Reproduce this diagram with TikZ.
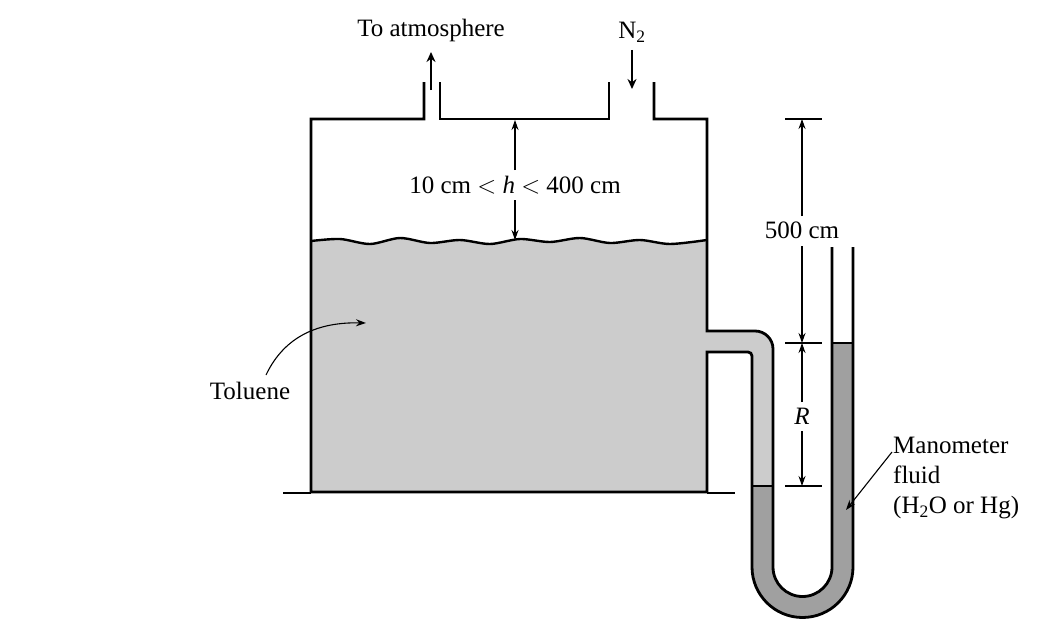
\documentclass[tikz,border=0pt]{standalone}
\usepackage{fontspec}
\setmainfont{Liberation Serif}
\usetikzlibrary{arrows.meta}
\begin{document}
\begin{tikzpicture}[x=1pt,y=-1pt,
  wall/.style={line width=2.8pt},
  dim/.style={line width=1.1pt,-{Stealth[length=10pt,width=7pt]}},
  lbl/.style={font=\fontsize{25}{30}\selectfont,inner sep=1pt},
  thin/.style={line width=1.1pt}]
\useasboundingbox (0,0) rectangle (1054,634);
\definecolor{tol}{HTML}{CCCCCC}
\definecolor{man}{HTML}{A0A0A0}
% toluene fill in tank and pipe
\fill[tol] (311,492) -- (311,241)
  -- plot[smooth] coordinates {(311,241)(340,239)(370,244)(400,238)(430,243)(460,240)(490,244)(520,239)(550,242)(580,238)(610,243)(640,240)(670,244)(707,240)}
  -- (707,331) -- (755,331) arc[start angle=-90,end angle=0,radius=18] -- (773,486) -- (752,486) -- (752,356) arc[start angle=0,end angle=-90,radius=4] -- (707,352) -- (707,492) -- cycle;
% manometer fluid
\fill[man] (752,486) -- (752,567) arc[start angle=180,end angle=0,radius=50.5] -- (853,343) -- (832,343) -- (832,567) arc[start angle=0,end angle=180,radius=29.5] -- (773,486) -- cycle;
% wavy surface
\draw[line width=2.4pt] plot[smooth] coordinates {(311,241)(340,239)(370,244)(400,238)(430,243)(460,240)(490,244)(520,239)(550,242)(580,238)(610,243)(640,240)(670,244)(707,240)};
% tank
\draw[wall] (424,82) -- (424,119) -- (311,119) -- (311,492) -- (707,492) -- (707,352) -- (748,352) arc[start angle=-90,end angle=0,radius=4] -- (752,567) arc[start angle=180,end angle=0,radius=50.5] -- (853,247);
\draw[wall] (440,82) -- (440,119) -- (609,119) -- (609,82);
\draw[wall] (654,82) -- (654,119) -- (707,119) -- (707,331) -- (755,331) arc[start angle=-90,end angle=0,radius=18] -- (773,567) arc[start angle=180,end angle=0,radius=29.5] -- (832,247);
\draw[wall,line width=2.2pt] (752,486) -- (773,486) (832,343) -- (853,343);
% ground
\draw[thin] (283,493) -- (311,493) (707,493) -- (735,493);
% labels
\node[lbl] (atm) at (431,30) {To atmosphere};
\node[lbl] (n2) at (632,32) {N\textsubscript{2}};
\coordinate (a1) at (431,90); \coordinate (a2) at (431,52);
\draw[line width=2.8pt,-{Stealth[length=10pt,width=9pt]}] (a1) -- (a2);
\coordinate (b1) at (632,50); \coordinate (b2) at (632,89);
\draw[line width=2.8pt,-{Stealth[length=10pt,width=9pt]}] (b1) -- (b2);
% h dimension
\coordinate (ht) at (515,120); \coordinate (hb) at (515,240);
\coordinate (h1) at (515,170); \coordinate (h2) at (515,200);
\draw[dim] (h1) -- (ht);
\draw[dim] (h2) -- (hb);
\node[lbl] (h) at (515,185) {10 cm $<$ \textit{h} $<$ 400 cm};
% 500 cm and R
\coordinate (t0) at (802,119); \coordinate (t1) at (802,343); \coordinate (t2) at (802,486);
\coordinate (f1) at (802,216); \coordinate (f2) at (802,246);
\coordinate (r1) at (802,402); \coordinate (r2) at (802,431);
\draw[thin] (785,119) -- (822,119) (785,343) -- (822,343) (785,486) -- (822,486);
\draw[dim] (f1) -- (t0);
\draw[dim] (f2) -- (t1);
\draw[dim] (r1) -- (t1);
\draw[dim] (r2) -- (t2);
\node[lbl] (five) at (802,230) {500 cm};
\node[lbl] (R) at (802,416) {\textit{R}};
% Toluene
\node[lbl] (tolu) at (250,391) {Toluene};
\coordinate (tp) at (366,323);
\draw[thin,-{Stealth[length=10pt,width=7pt]}] (266,375) .. controls (285,335) and (320,322) .. (tp);
% manometer fluid
\node[lbl,align=left,anchor=north west] (mf) at (892,436) {Manometer\\fluid\\(H\textsubscript{2}O or Hg)};
\coordinate (mp) at (846,510);
\draw[thin,-{Stealth[length=10pt,width=7pt]}] (892,452) -- (mp);
\end{tikzpicture}
\end{document}
